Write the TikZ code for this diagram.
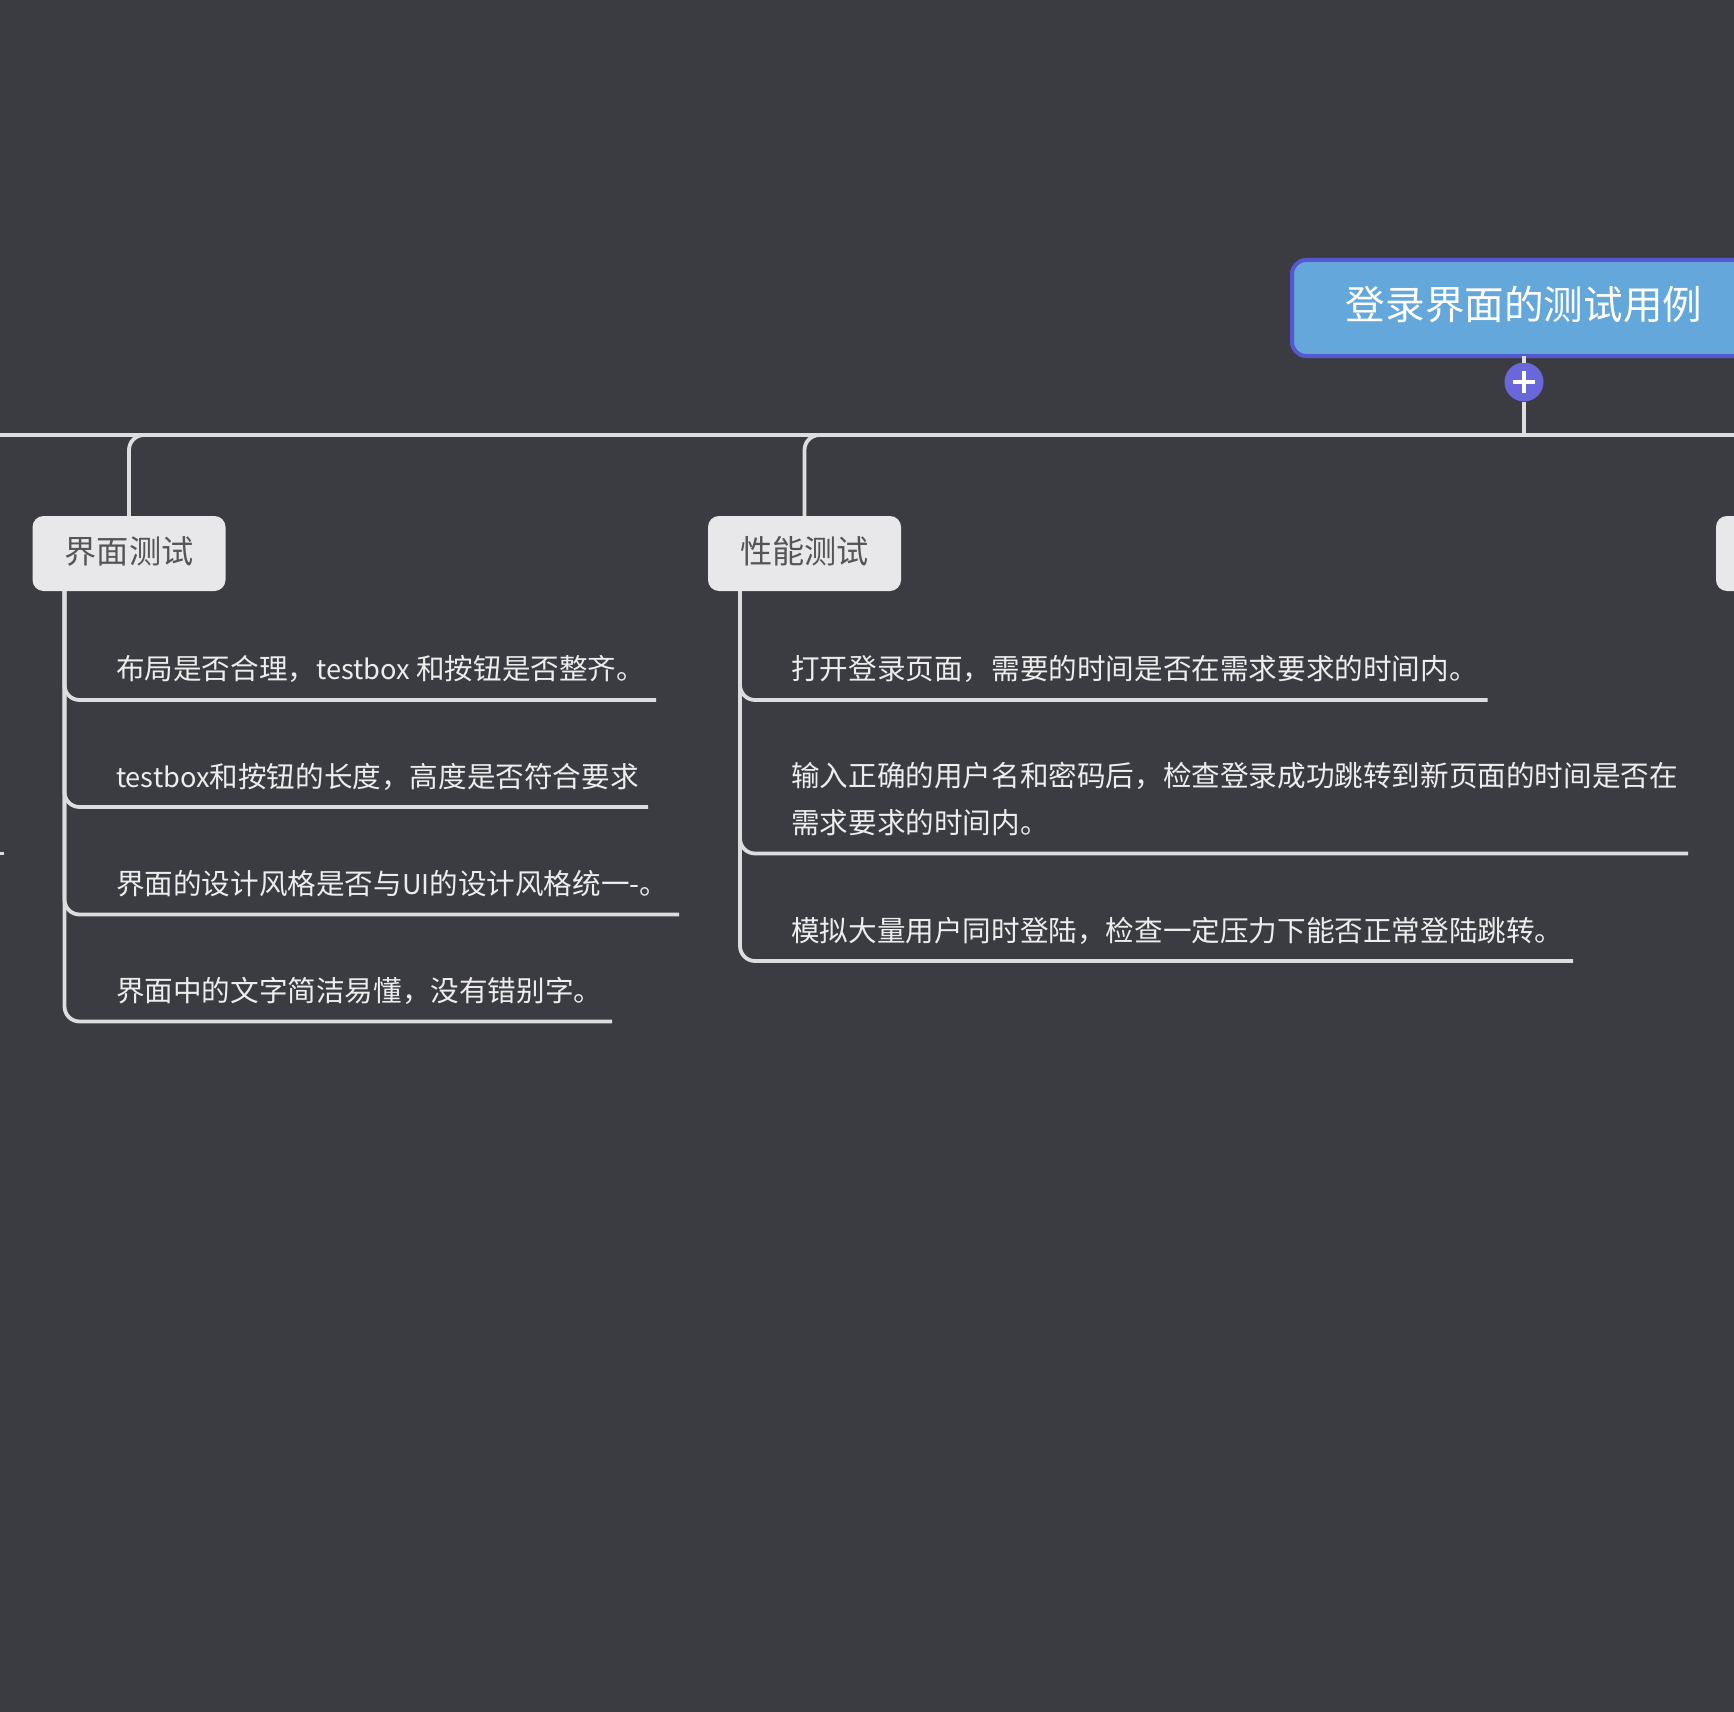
\documentclass[tikz,border=0pt]{standalone}
\usepackage{fontspec}
\setmainfont{Noto Sans CJK SC}
\usetikzlibrary{positioning}

\definecolor{bgdark}{HTML}{3B3C42}
\definecolor{linegray}{HTML}{DDDDE0}
\definecolor{rootblue}{HTML}{63A7DB}
\definecolor{rootedge}{HTML}{5757CF}
\definecolor{plusblue}{HTML}{6A67DB}
\definecolor{topicfill}{HTML}{E8E8EA}
\definecolor{topictext}{HTML}{555558}

\newcommand{\lat}[1]{{\fontsize{27.2}{47}\selectfont #1}}

\tikzset{
	link/.style={line width=3.8pt, draw=linegray, rounded corners=15pt},
	roottopic/.style={draw=rootedge, line width=4pt, fill=rootblue, rounded corners=14pt, outer sep=0pt,
		minimum width=464pt, minimum height=96pt, text=white, font=\fontsize{39.6}{47}\selectfont},
	topic/.style={fill=topicfill, rounded corners=11pt, outer sep=0pt, inner sep=0pt,
		minimum width=193pt, minimum height=75pt, text=topictext, font=\fontsize{32.2}{40}\selectfont},
	leaf/.style={anchor=west, inner sep=0pt, align=left, text=white!93!black, font=\fontsize{28.6}{47}\selectfont},
	plusbtn/.style={circle, fill=plusblue, minimum size=39pt, inner sep=0pt, outer sep=0pt}
}

\begin{document}
\begin{tikzpicture}[x=1pt, y=-1pt]
	\fill[bgdark] (0,0) rectangle (1734,1712);
	\clip (0,0) rectangle (1734,1712);

	% main bar
	\coordinate (barleft) at (0,435);
	\coordinate (barright) at (1734,435);
	\coordinate (barjoin) at (1524,435);
	\draw[link] (barleft) -- (barright);

	\node[roottopic] (root) at (1524,308) {\raisebox{-12pt}[0pt][0pt]{登录界面的测试用例}};
	\node[plusbtn] (plus) at (1524,382) {};
	\draw[link] (root.south) -- (plus.north);
	\draw[link] (plus.south) -- (barjoin);
	\draw[white, line width=3.5pt] (1513,382) -- (1535,382);
	\draw[white, line width=3.5pt] (1524,371) -- (1524,393);

	% topics
	\node[topic] (ui) at (129,553.5) {\raisebox{-9.5pt}[0pt][0pt]{界面测试}};
	\node[topic] (perf) at (804.5,553.5) {\raisebox{-9.5pt}[0pt][0pt]{性能测试}};
	\node[topic] (third) at (1812.5,553.5) {};
	\draw[link] (ui.north) |- (barjoin);
	\draw[link] (perf.north) |- (barjoin);

	% leaves of the first topic
	\coordinate (uistem) at (64.5,591);
	\foreach \name/\ty/\ly/\ex/\lab in {
		uia/669/700/656/{布局是否合理，\lat{testbox} 和按钮是否整齐。},
		uib/777/807/648/{\lat{testbox}和按钮的长度，高度是否符合要求},
		uic/884/914.5/679/{界面的设计风格是否与\lat{UI}的设计风格统一-。},
		uid/991/1021.5/612/{界面中的文字简洁易懂，没有错别字。}}
	{
		\node[leaf] (\name) at (115.8,\ty) {\lab};
		\coordinate (\name end) at (\ex,\ly);
		\draw[link] (uistem) |- (\name end);
	}

	% leaves of the second topic
	\coordinate (perfstem) at (740,591);
	\foreach \name/\ty/\ly/\ex/\lab in {
		pfa/669/700/1487.5/{打开登录页面，需要的时间是否在需求要求的时间内。},
		pfb/799/853.5/1688/{输入正确的用户名和密码后，检查登录成功跳转到新页面的时间是否在\\需求要求的时间内。},
		pfc/931/961/1573/{模拟大量用户同时登陆，检查一定压力下能否正常登陆跳转。}}
	{
		\node[leaf] (\name) at (791,\ty) {\lab};
		\coordinate (\name end) at (\ex,\ly);
		\draw[link] (perfstem) |- (\name end);
	}

	% stub of a line from the left
	\coordinate (stuba) at (0,853.5);
	\coordinate (stubb) at (3.5,853.5);
	\draw[link] (stuba) -- (stubb);
\end{tikzpicture}
\end{document}
